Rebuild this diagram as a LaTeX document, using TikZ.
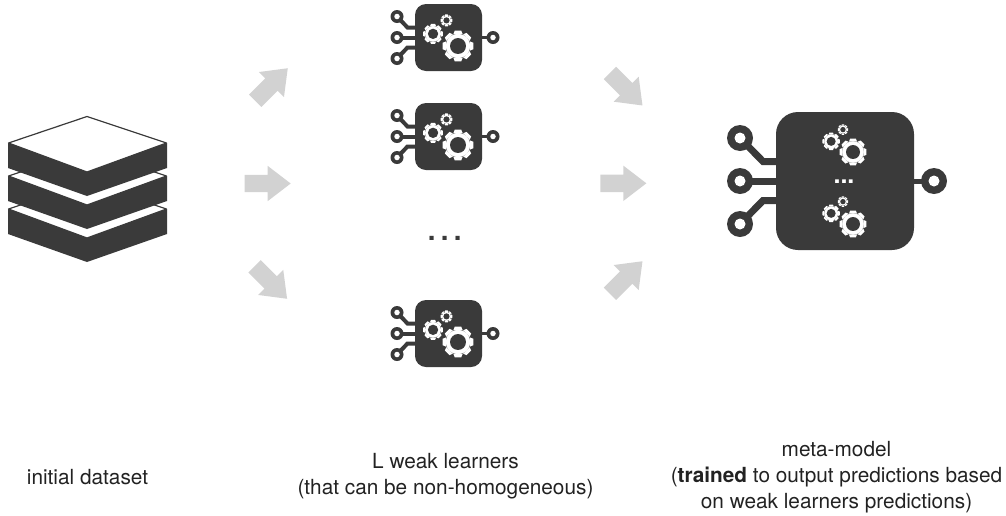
\documentclass[tikz,border=0pt]{standalone}
\usepackage{fontspec}
\setmainfont{TeX Gyre Heros}
\usetikzlibrary{shapes.arrows}

\definecolor{icondark}{HTML}{3A3A3A}
\definecolor{arrowgray}{HTML}{D2D2D2}
\definecolor{captiontext}{HTML}{222222}

\tikzset{
  blockarrow/.style={single arrow,anchor=tip,fill=arrowgray,inner xsep=0pt,inner ysep=8.5pt,minimum height=46pt,minimum width=35pt,
    single arrow head extend=9pt,single arrow tip angle=75},
  caption/.style={align=center,text=captiontext,font=\fontsize{20.8}{25.8}\selectfont},
  learnerbox/.style={fill=icondark,rounded corners=#1},
  pics/gearwheel/.style={code={
    \fill[white]
      \foreach \a in {0,45,...,315} {[rotate=\a] (-0.3,0.78) -- (-0.21,1) -- (0.21,1) -- (0.3,0.78) -- cycle};
    \fill[white] (0,0) circle (0.8);
    \fill[icondark] (0,0) circle (0.52);
  }},
  % big wheel at the origin, #1 is the size of its radius
  pics/gearset/.style={code={
    \pic[scale=0.96*#1] at (0,0) {gearwheel};
    \pic[scale=0.62*#1] at (-1.56*#1,-0.76*#1) {gearwheel};
    \pic[scale=0.37*#1] at (-0.72*#1,-1.6*#1) {gearwheel};
  }},
}

\newcommand{\terminal}[4]{% x, y, size, name
  \fill[icondark] (#1,#2) circle (13*#3);
  \fill[white] (#1,#2) circle (5.5*#3);
  \coordinate (#4) at (#1,#2);
}

\begin{document}
\begin{tikzpicture}[x=1pt,y=-1pt]
  \useasboundingbox (0,0) rectangle (1006,515);

  % dataset
  \foreach \h in {66,33,0} {
    \begin{scope}[yshift=-\h pt]
      \fill[white,draw=icondark,line width=1.2pt,line join=round] (87,116.5) -- (166.5,143) -- (87,172) -- (8.5,143) -- cycle;
      \fill[icondark] (8,143) -- (87,172) -- (167,143) -- (167,168) -- (87,196) -- (8,168) -- cycle;
    \end{scope}
  }

  % arrows, placed by their tips
  \node[blockarrow,rotate=45] (arrowa) at (288,68) {};
  \node[blockarrow] (arrowb) at (291,183.5) {};
  \node[blockarrow,rotate=-45] (arrowc) at (287.3,299) {};
  \node[blockarrow,rotate=-45] (arrowd) at (642.7,105.7) {};
  \node[blockarrow] (arrowe) at (646.7,183.3) {};
  \node[blockarrow,rotate=45] (arrowf) at (642.7,261) {};

  % weak learners
  \foreach \y/\nm in {37.5/one,136.5/two,333.5/last} {
    \begin{scope}[shift={(448.5,\y)}]
      \draw[icondark,line width=4pt] (-51.5,-21) -- (-41,-10) -- (-33,-10);
      \draw[icondark,line width=4pt] (-51.5,21) -- (-41,10) -- (-33,10);
      \draw[icondark,line width=4pt] (-51.5,0) -- (-33,0);
      \draw[icondark,line width=3pt] (33,0) -- (44,0);
      \fill[learnerbox=11pt] (-33.5,-33.5) rectangle (33.5,33.5);
      \terminal{-51.5}{-21}{0.5}{\nm a}
      \terminal{-51.5}{0}{0.5}{\nm b}
      \terminal{-51.5}{21}{0.5}{\nm c}
      \terminal{44.5}{0}{0.5}{\nm d}
      \pic at (9.5,8.5) {gearset=16};
    \end{scope}
  }
  \node[anchor=base,inner sep=0pt,text=icondark,font=\fontsize{40}{40}\selectfont] (dotsl) at (445,240) {.\kern1.7pt.\kern1.7pt.};

  % meta-model
  \draw[icondark,line width=7pt] (740,138) -- (763,161.5) -- (778,161.5);
  \draw[icondark,line width=7pt] (740,224) -- (763,200.5) -- (778,200.5);
  \draw[icondark,line width=7pt] (740,181) -- (778,181);
  \draw[icondark,line width=5pt] (911,181) -- (934,181);
  \fill[learnerbox=22pt] (776,112) rectangle (914,250);
  \terminal{740}{138}{1}{metaa}
  \terminal{740}{181}{1}{metab}
  \terminal{740}{224}{1}{metac}
  \terminal{934}{181}{1}{metad}
  \pic at (853,152) {gearset=14};
  \pic at (853,224) {gearset=14};
  \node[anchor=base,inner sep=0pt,text=white,font=\bfseries\fontsize{25}{25}\selectfont] (dotsm) at (844,183) {...};

  % captions
  \node[caption] (capdata) at (87.5,477) {initial dataset};
  \node[caption] (caplearn) at (445.5,476) {L weak learners\\(that can be non-homogeneous)};
  \node[caption] (capmeta) at (836.5,477) {meta-model\\(\textbf{trained} to output predictions based\\on weak learners predictions)};
\end{tikzpicture}
\end{document}
